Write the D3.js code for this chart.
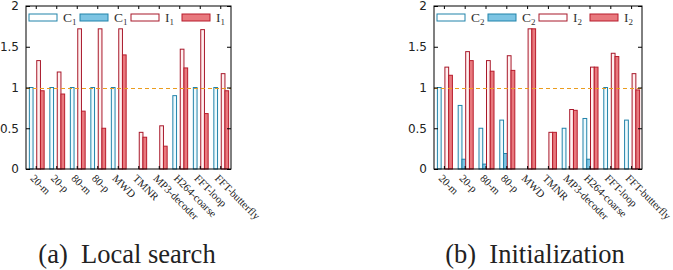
<!DOCTYPE html>
<html>
<head>
<meta charset="utf-8">
<script src="https://cdn.jsdelivr.net/npm/d3@7"></script>
<style>
  body { margin: 0; background: #fff; }
  svg { display: block; }
  .serif { font-family: "Liberation Serif", "DejaVu Serif", "Times New Roman", serif; }
  .sans { font-family: "DejaVu Sans", sans-serif; }
</style>
</head>
<body>
<div id="chart"></div>
<script>
// benchmark names on the x axis (same for both panels)
const categories = ["20-m", "20-p", "80-m", "80-p", "MWD", "TMNR", "MP3-decoder", "H264-coarse", "FFT-loop", "FFT-butterfly"];
const yTicks = [0, 0.5, 1, 1.5, 2];

// (a) local search
const c1Open   = [1, 1, 1, 1, 1, 0, 0, 0.9, 1, 1];
const c1Filled = [0, 0, 0, 0, 0, 0, 0, 0, 0, 0];
const i1Open   = [1.33, 1.19, 1.72, 1.72, 1.72, 0.45, 0.53, 1.47, 1.71, 1.17];
const i1Filled = [0.96, 0.92, 0.71, 0.50, 1.40, 0.39, 0.28, 1.24, 0.68, 0.96];

// (b) initialization
const c2Open   = [1, 0.78, 0.50, 0.60, 0, 0, 0.50, 0.62, 1, 0.60];
const c2Filled = [0, 0.12, 0.06, 0.19, 0, 0, 0, 0.12, 0, 0];
const i2Open   = [1.25, 1.44, 1.33, 1.39, 1.72, 0.45, 0.73, 1.25, 1.42, 1.17];
const i2Filled = [1.15, 1.33, 1.20, 1.21, 1.72, 0.45, 0.72, 1.25, 1.38, 0.97];

const styles = [
    { fill: "#eefafd", stroke: "#2183aa" },
    { fill: "#7cc4e3", stroke: "#2183aa" },
    { fill: "#fff0f0", stroke: "#a8182a" },
    { fill: "#e8797e", stroke: "#b81c2c" }
];

const svg = d3.select("#chart").append("svg")
    .attr("width", 673)
    .attr("height", 270);

const drawPanel = (params) => {
    const { left, right, top, bottom, series, names, idx, caption, captionX } = params;
    const g = svg.append("g");

    const x0 = d3.scaleBand().domain(categories).range([left, right]);
    const x1 = d3.scaleBand().domain([0, 1, 2, 3]).range([0, x0.bandwidth()]).paddingOuter(0.77);
    const y = d3.scaleLinear().domain([0, 2]).range([bottom, top]);

    // bars
    categories.forEach((cat, ci) => {
        const rows = series.map((s, si) => ({ si: si, v: s[ci] })).filter(d => d.v > 0);
        g.selectAll(null)
            .data(rows)
            .join("rect")
            .attr("x", d => x0(cat) + x1(d.si) + 0.5)
            .attr("y", d => y(d.v))
            .attr("width", x1.bandwidth())
            .attr("height", d => y(0) - y(d.v))
            .attr("fill", d => styles[d.si].fill)
            .attr("stroke", d => styles[d.si].stroke)
            .attr("stroke-width", 1);
    });

    // reference line at 1
    g.append("line")
        .attr("x1", left).attr("x2", right)
        .attr("y1", Math.round(y(1)) + 0.5).attr("y2", Math.round(y(1)) + 0.5)
        .attr("stroke", "#eb9d1e")
        .attr("stroke-width", 1.2)
        .attr("stroke-dasharray", "4,3");

    // frame
    g.append("rect")
        .attr("x", left).attr("y", top)
        .attr("width", right - left).attr("height", bottom - top)
        .attr("fill", "none").attr("stroke", "#000").attr("stroke-width", 1);

    // y ticks, inside on both sides
    const yAxisL = d3.axisLeft(y).tickValues(yTicks).tickSize(-4).tickPadding(7).tickFormat(d3.format("~g"));
    const yAxisR = d3.axisRight(y).tickValues(yTicks).tickSize(-4).tickFormat("");
    g.append("g").attr("transform", `translate(${left},0)`).call(yAxisL)
        .call(a => a.select(".domain").remove())
        .call(a => a.selectAll("text").attr("class", "sans").attr("font-family", null).attr("font-size", 12).attr("fill", "#222"));
    g.append("g").attr("transform", `translate(${right},0)`).call(yAxisR)
        .call(a => a.select(".domain").remove());

    // x ticks, inside on top and bottom
    const xc = d => x0(d) + x0.bandwidth() / 2;
    g.append("g").selectAll("line").data(categories).join("line")
        .attr("x1", xc).attr("x2", xc).attr("y1", bottom).attr("y2", bottom - 3)
        .attr("stroke", "#000");
    g.append("g").selectAll("line").data(categories).join("line")
        .attr("x1", xc).attr("x2", xc).attr("y1", top).attr("y2", top + 3)
        .attr("stroke", "#000");

    g.append("g").selectAll("text").data(categories).join("text")
        .attr("class", "serif")
        .attr("transform", d => `translate(${xc(d) - 6.5},${bottom + 10}) rotate(45)`)
        .attr("font-size", 10.8)
        .attr("fill", "#222")
        .text(d => d);

    // legend
    const leg = g.append("g").selectAll("g").data(styles).join("g")
        .attr("transform", (d, i) => `translate(${left + 3 + i * 51},${top + 8})`);
    leg.append("rect")
        .attr("width", 28).attr("height", 7)
        .attr("fill", (d, i) => i % 2 === 0 ? "#fff" : d.fill)
        .attr("stroke", d => d.stroke);
    const lt = leg.append("text")
        .attr("class", "serif")
        .attr("x", 34).attr("y", 7.5)
        .attr("font-size", 13.5)
        .attr("fill", "#333");
    lt.append("tspan").text((d, i) => names[i]);
    lt.append("tspan").attr("font-size", 9).attr("dy", 3).text(idx);

    // caption
    svg.append("text")
        .attr("class", "serif")
        .attr("x", captionX).attr("y", 263)
        .attr("text-anchor", "middle")
        .attr("font-size", 26.5)
        .attr("fill", "#222")
        .text(caption);
};

drawPanel({
    left: 26, right: 231, top: 6, bottom: 169,
    series: [c1Open, c1Filled, i1Open, i1Filled],
    names: ["C", "C", "I", "I"], idx: "1",
    caption: "(a)\u2002Local search", captionX: 127
});

drawPanel({
    left: 434, right: 642, top: 6, bottom: 169,
    series: [c2Open, c2Filled, i2Open, i2Filled],
    names: ["C", "C", "I", "I"], idx: "2",
    caption: "(b)\u2002Initialization", captionX: 535
});
</script>
</body>
</html>
